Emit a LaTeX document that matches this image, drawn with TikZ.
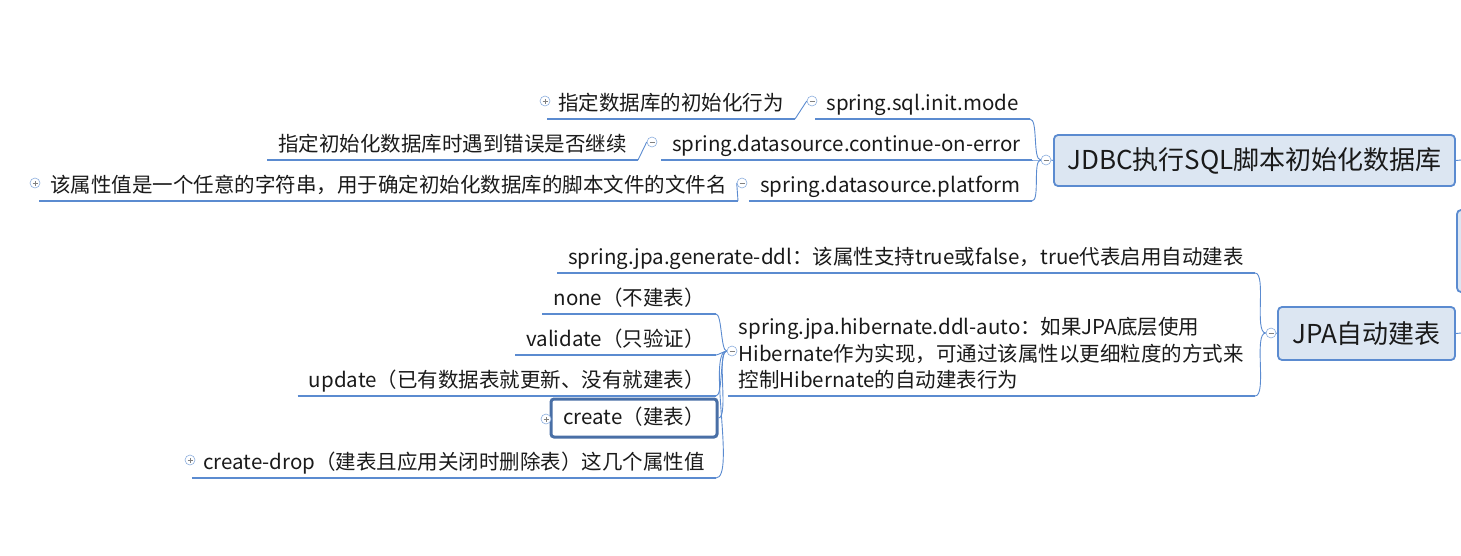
\documentclass[tikz,border=0pt]{standalone}
\usepackage{fontspec}
\setmainfont{Noto Sans CJK SC}
\definecolor{lineblue}{HTML}{5B8BD0}
\definecolor{boxfill}{HTML}{DCE6F2}
\definecolor{inktext}{HTML}{1A1A1A}
\tikzset{
    leaf/.style={anchor=south east, inner xsep=11pt, inner ysep=4pt,
        text height=16pt, text depth=4pt, font=\fontsize{20.5}{26.5}\selectfont,
        text=inktext},
    uline/.style={draw=lineblue, line width=2.6pt},
    conn/.style={draw=lineblue, line width=0.9pt},
    mainbox/.style={draw=lineblue, fill=boxfill, rounded corners=4pt,
        line width=1.8pt, font=\fontsize{26}{30}\selectfont, text=inktext,
        inner sep=0pt},
    btn/.style={circle, draw=lineblue!70, fill=white, inner sep=0pt,
        minimum size=10pt, line width=0.6pt},
    minusbtn/.style={btn, path picture={
        \draw[gray, line width=0.7pt] ([xshift=-2.5pt]path picture bounding box.center)
            -- ([xshift=2.5pt]path picture bounding box.center);}},
    plusbtn/.style={btn, path picture={
        \draw[gray, line width=0.7pt] ([xshift=-2.5pt]path picture bounding box.center)
            -- ([xshift=2.5pt]path picture bounding box.center);
        \draw[gray, line width=0.7pt] ([yshift=-2.5pt]path picture bounding box.center)
            -- ([yshift=2.5pt]path picture bounding box.center);}}
}
\begin{document}
\begin{tikzpicture}[x=1pt, y=-1pt]
\useasboundingbox (0,0) rectangle (1461,555);

% JDBC branch
\node (jdbc) [mainbox, minimum width=401pt, minimum height=51pt] at (1254.5,160.5)
    {JDBC执行SQL脚本初始化数据库};
\node (jdbcbtn) [minusbtn] at (1046,160) {};
\node (initmode) [leaf] at (1030,119) {spring.sql.init.mode};
\node (initmodebtn) [minusbtn] at (812,101) {};
\node (initdesc) [leaf] at (795,119) {指定数据库的初始化行为};
\node (initdescbtn) [plusbtn] at (545,101) {};
\node (onerror) [leaf] at (1032,160) {spring.datasource.continue-on-error};
\node (onerrorbtn) [minusbtn] at (652,142) {};
\node (onerrordesc) [leaf] at (638,160) {指定初始化数据库时遇到错误是否继续};
\node (platform) [leaf] at (1032,201) {spring.datasource.platform};
\node (platformbtn) [minusbtn] at (742,183) {};
\node (platformdesc) [leaf] at (738,201) {该属性值是一个任意的字符串，用于确定初始化数据库的脚本文件的文件名};
\node (platformdescbtn) [plusbtn] at (35,183) {};

% JPA branch
\node (jpa) [mainbox, minimum width=177pt, minimum height=53pt] at (1366.5,333.5)
    {JPA自动建表};
\node (jpabtn) [minusbtn] at (1271,333) {};
\node (genddl) [leaf] at (1255,273) {spring.jpa.generate-ddl：该属性支持true或false，true代表启用自动建表};
\node (ddlauto) [leaf, align=left] at (1255,396)
    {spring.jpa.hibernate.ddl-auto：如果JPA底层使用\\Hibernate作为实现，可通过该属性以更细粒度的方式来\\控制Hibernate的自动建表行为};
\node (ddlbtn) [minusbtn] at (732,351) {};
\node (none) [leaf] at (716,314) {none（不建表）};
\node (validate) [leaf] at (716,355) {validate（只验证）};
\node (update) [leaf] at (716,396) {update（已有数据表就更新、没有就建表）};
\node (create) [leaf, anchor=center, draw=lineblue!80!black, line width=3pt,
    rounded corners=3pt, minimum width=166pt, minimum height=38pt] at (634,418) {create（建表）};
\node (createbtn) [plusbtn] at (546,419) {};
\node (createdrop) [leaf] at (716,478) {create-drop（建表且应用关闭时删除表）这几个属性值};
\node (createdropbtn) [plusbtn] at (190,460) {};

% underlines
\foreach \n in {initmode,initdesc,onerror,onerrordesc,platform,platformdesc,
    genddl,ddlauto,none,validate,update,createdrop}
    \draw[uline] (\n.south west) -- (\n.south east);

% connectors
\draw[conn] (jdbc.west) -- (jdbcbtn.east);
\foreach \n in {initmode,onerror,platform}
    \draw[conn] (jdbcbtn.west) to[out=180,in=0,looseness=0.5] (\n.south east);
\draw[conn] (initmodebtn.west) -- (initdesc.south east);
\draw[conn] (onerrorbtn.west) -- (onerrordesc.south east);
\draw[conn] (platformbtn.west) -- (platformdesc.south east);
\draw[conn] (jpa.west) -- (jpabtn.east);
\foreach \n in {genddl,ddlauto}
    \draw[conn] (jpabtn.west) to[out=180,in=0,looseness=0.5] (\n.south east);
\foreach \n in {none,validate,update,createdrop}
    \draw[conn] (ddlbtn.west) to[out=180,in=0,looseness=0.4] (\n.south east);
\draw[conn] (ddlbtn.west) to[out=180,in=0,looseness=0.4] (create.east);

% parts cut off at the right edge
\draw[conn] (jdbc.east) -- (1461,160);
\draw[conn] (jpa.east) -- (1461,333);
\draw[draw=lineblue, fill=boxfill, rounded corners=4pt, line width=1.8pt]
    (1457,210) rectangle (1480,292);
\end{tikzpicture}
\end{document}
